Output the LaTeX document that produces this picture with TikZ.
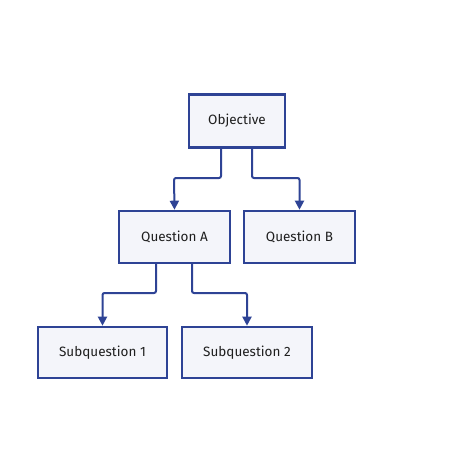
\documentclass[tikz,border=0pt]{standalone}
\usepackage{fontspec}
\setmainfont{Fira Sans}
\usetikzlibrary{arrows.meta}
\definecolor{edge}{HTML}{2E4395}
\definecolor{boxfill}{HTML}{F4F5FA}
\definecolor{txt}{HTML}{1E1E1E}
\tikzset{
  box/.style={draw=edge, fill=boxfill, line width=2.6pt, inner sep=0pt, text=txt,
    font=\fontsize{13.5}{15}\selectfont},
  conn/.style={draw=edge, line width=2pt, rounded corners=2pt,
    -{Triangle[length=9pt,width=9pt]}}
}
\begin{document}
\begin{tikzpicture}[x=1pt,y=-1pt]
\useasboundingbox (0,0) rectangle (474,474);
\node[box, minimum width=96pt, minimum height=53pt] (obj) at (237,121) {Objective};
\node[box, minimum width=111pt, minimum height=52pt] (qa) at (174.5,237) {Question A};
\node[box, minimum width=111pt, minimum height=52pt] (qb) at (299.5,237) {Question B};
\node[box, minimum width=129pt, minimum height=51pt] (s1) at (102.5,352.5) {Subquestion 1};
\node[box, minimum width=130pt, minimum height=51pt] (s2) at (247,352.5) {Subquestion 2};
\coordinate (o1) at (221,148);
\coordinate (o2) at (252,148);
\coordinate (a1) at (156,263);
\coordinate (a2) at (192,263);
\draw[conn] (o1) |- (174,178) -- (qa.north);
\draw[conn] (o2) |- (299.5,178) -- (qb.north);
\draw[conn] (a1) |- (102.5,293) -- (s1.north);
\draw[conn] (a2) |- (247,293) -- (s2.north);
\end{tikzpicture}
\end{document}
